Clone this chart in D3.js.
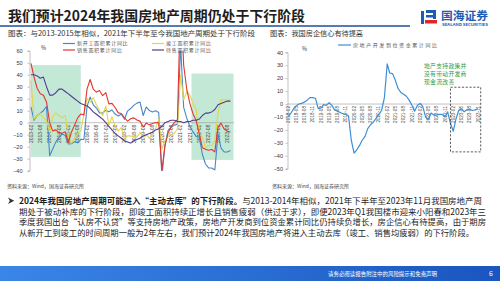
<!DOCTYPE html>
<html>
<head>
<meta charset="utf-8">
<script src="https://cdn.jsdelivr.net/npm/d3@7"></script>
<style>
  html, body { margin: 0; padding: 0; background: #fff; }
  svg { display: block; font-family: "Noto Sans CJK SC", "Noto Sans", sans-serif; }
</style>
</head>
<body>
<svg width="500" height="281"></svg>
<script>
const width = 500;
const height = 281;
const parse = d3.timeParse("%Y-%m");

// left chart: bimonthly points from 2013-02
const leftStart = "2013-02";
const newStarts = [
  13, 2, 6, 8, 10, 13.5,
  -27.5, -22, -16, -12.5, -9.3, -10.7,
  -17.7, -17.5, -15.8, -16.8, -13.9, -14,
  13.7, 21.4, 14.9, 12.2, 8.2, 8.1,
  10.4, 9.1, 10.6, 7.2, 5.6, 7.0,
  2.9, 9.7, 11.8, 14.4, 16.3, 17.2,
  6.0, 13.1, 10.1, 8.9, 10.0, 8.5,
  -44.9, -18.4, -6.3, -3.6, -2.0, -1.2,
  64.3, 12.8, 3.8, -3.2, -7.7, -11.4,
  -12.2, -26.3, -34.4, -37.7, -37.8, -39.4,
  -9.4, -21.2, -24.3, -24.4, -23.2
];
const completed = [
  35, 3, 6, 8, 4, 2,
  -8, 5, 8, 6, 4, 6,
  -12, -17, -13, -9, -7, 7,
  20, 17, 21, 15, 10, 6,
  14, -2, 5, -3, -7, -4,
  -14, -11, -11, -12, -12, -8,
  -12, -10, -13, -9, -5, 3,
  -22, -15, -11, -10, -9, -5,
  40, 19, 26, 23, 16, 11,
  -10, -12, -21, -19, -19, -15,
  8, 19, 19, 19, 19
];
const sales = [
  49.5, 38, 28.7, 24.2, 22.8, 17.3,
  -0.1, -6.8, -6, -8.3, -8.9, -7.6,
  -16.3, -8, -2, 4, 7.2, 6.5,
  28.2, 36, 27.9, 25.5, 26.8, 22.5,
  25.1, 15.7, 16.1, 12.7, 8.2, 7.7,
  4.1, 1.3, 3.3, 4.0, 2.2, 1.3,
  -3.6, -0.3, -1.8, -0.6, 0.1, -0.1,
  -39.9, -19.3, -8.4, -3.3, 0, 2.6,
  104.9, 48.1, 27.7, 15.9, 7.3, 1.9,
  -9.6, -20.9, -22.2, -23, -22.3, -24.3,
  -3.6, -0.4, -5.3, -7.1, -7.8
];
const inventory = [
  40, 40, 39, 37, 38, 30,
  23, 23, 25, 28, 28, 26,
  24, 22, 20, 18, 16, 15,
  14, 12, 9, 7, 5, 3,
  0, -3, -6, -9, -11, -13,
  -15, -16, -17, -15, -14, -13,
  -11, -10, -9, -8, -6, -5,
  -3, 0, 1, 2, 2, 1,
  1, 0, 1, 1, 2, 2,
  3, 6, 8, 8, 9, 11,
  15, 16, 17, 18, 18
];
const leftTicks = [
  "2013-02", "2013-08", "2014-02", "2014-08", "2015-02", "2015-08",
  "2016-02", "2016-08", "2017-02", "2017-08", "2018-02", "2018-08",
  "2019-02", "2019-08", "2020-02", "2020-08", "2021-02", "2021-08",
  "2022-02", "2022-08", "2023-02", "2023-08"
];
const leftYTicks = [-40, -30, -20, -10, 0, 10, 20, 30, 40, 50, 60];
// shaded down-cycle periods [from, to, top, bottom]
const leftPeriods = [
  ["2013-02", "2015-10", 48, -28.5],
  ["2021-09", "2023-12", 41, -31]
];

// right chart: monthly points from 2018-02
const rightStart = "2018-02";
const fundsYoY = [
  -10, -7.5, -4, -1.5, 0, 0.5, 1.5, 3, 5, 5, 4.5,
  -3.5, -3, -0.5, -1, 1, -1, -4.5, -5.5, -6.5, -7.5, -8, -9,
  -28, -38, -35.5, -32, -28, -25, -19, -16, -14, -11, -8, -5,
  5, 31, 24, 23.5, 18.5, 12, 9, 7.5, 6, 3, -1, -5.5,
  -1, 0.5, -2, -10, -12, -7, -8.5, -8.5, -8, -8, -10, -6,
  -15, -21, -12, -5, -3.5, -6, -4.5, -4, -5, -4.5, -3.5
];
const rightTicks = [
  "2018-02", "2018-05", "2018-08", "2018-11", "2019-02", "2019-05",
  "2019-08", "2019-11", "2020-02", "2020-05", "2020-08", "2020-11",
  "2021-02", "2021-05", "2021-08", "2021-11", "2022-02", "2022-05",
  "2022-08", "2022-11", "2023-02", "2023-05", "2023-08", "2023-11"
];
const rightYTicks = [-50, -40, -30, -20, -10, 0, 10, 20, 30, 40];
const rightBox = ["2023-01", "2023-12", 13, -37];

const leftSeries = [
  { name: "新开工面积累计同比", values: newStarts, color: "#4a86c8" },
  { name: "竣工面积累计同比", values: completed, color: "#e3d54c" },
  { name: "销售面积累计同比", values: sales, color: "#e5352c" },
  { name: "待售面积累计同比", values: inventory, color: "#4f3d90" }
];

const svg = d3.select("svg");

// ---------- header ----------
svg.append("text")
  .attr("x", 8).attr("y", 20.5)
  .attr("font-size", 14).attr("font-weight", 700).attr("fill", "#1e1e1e")
  .attr("textLength", 297).attr("lengthAdjust", "spacingAndGlyphs")
  .text("我们预计2024年我国房地产周期仍处于下行阶段");

svg.append("line")
  .attr("x1", 0).attr("x2", 410).attr("y1", 26).attr("y2", 26)
  .attr("stroke", "#1f4e9c").attr("stroke-width", 1.5);

// logo
const logo = svg.append("g");
logo.append("rect").attr("x", 421).attr("y", 11).attr("width", 3).attr("height", 13).attr("fill", "#1d5cb4");
logo.append("rect").attr("x", 426).attr("y", 10).attr("width", 10).attr("height", 3).attr("fill", "#1d5cb4");
logo.append("rect").attr("x", 426).attr("y", 15).attr("width", 10).attr("height", 2.5).attr("fill", "#1d5cb4");
logo.append("rect").attr("x", 433).attr("y", 10).attr("width", 3).attr("height", 9).attr("fill", "#1d5cb4");
logo.append("rect").attr("x", 425).attr("y", 20).attr("width", 12).attr("height", 3.5).attr("fill", "#e0262b");
logo.append("text").attr("x", 441).attr("y", 20)
  .attr("font-size", 11).attr("font-weight", 700).attr("fill", "#1d5cb4")
  .attr("textLength", 47).attr("lengthAdjust", "spacingAndGlyphs")
  .text("国海证券");
logo.append("text").attr("x", 442).attr("y", 25.5)
  .attr("font-size", 3.6).attr("font-weight", 700).attr("fill", "#1d5cb4")
  .attr("textLength", 46).attr("lengthAdjust", "spacingAndGlyphs")
  .text("SEALAND SECURITIES");

// chart titles
svg.append("text").attr("x", 8).attr("y", 35.8)
  .attr("font-size", 7).attr("fill", "#333")
  .attr("textLength", 247).attr("lengthAdjust", "spacingAndGlyphs")
  .text("图表：与2013-2015年相似，2021年下半年至今我国地产周期处于下行阶段");
svg.append("text").attr("x", 270).attr("y", 35.8)
  .attr("font-size", 7).attr("fill", "#333")
  .attr("textLength", 93).attr("lengthAdjust", "spacingAndGlyphs")
  .text("图表：我国房企信心有待提高");

// ---------- left chart ----------
const xL = d3.scaleTime().domain([parse("2013-02"), parse("2023-11")]).range([31, 232]);
const yL = d3.scaleLinear().domain([-40, 60]).range([170.7, 50.7]);
const leftDate = i => d3.timeMonth.offset(parse(leftStart), i * 2);

svg.append("clipPath").attr("id", "clipL")
  .append("rect").attr("x", 29.5).attr("y", yL(60)).attr("width", 206).attr("height", yL(-40) - yL(60));

svg.append("g").selectAll("rect")
  .data(leftPeriods)
  .join("rect")
  .attr("x", d => xL(parse(d[0])))
  .attr("width", d => xL(parse(d[1])) - xL(parse(d[0])))
  .attr("y", d => yL(d[2]))
  .attr("height", d => yL(d[3]) - yL(d[2]))
  .attr("fill", "#c3e8d6");

const axL = svg.append("g")
  .attr("transform", "translate(29.5,0)")
  .call(d3.axisLeft(yL).tickValues(leftYTicks).tickSize(2).tickPadding(5).tickFormat(d3.format("d")));
axL.select(".domain").attr("stroke", "#999").attr("stroke-width", 0.6);
axL.selectAll(".tick line").attr("stroke", "#999").attr("stroke-width", 0.6);
axL.selectAll(".tick text").attr("font-size", 5.5).attr("fill", "#333").attr("font-family", "Liberation Sans, Arial, sans-serif");

svg.append("line")
  .attr("x1", 29.5).attr("x2", 234).attr("y1", yL(0)).attr("y2", yL(0))
  .attr("stroke", "#999").attr("stroke-width", 0.6);

svg.append("g").selectAll("text")
  .data(leftTicks)
  .join("text")
  .attr("transform", d => `translate(${xL(parse(d)) + 1.8},${yL(0) + 2})rotate(-90)`)
  .attr("text-anchor", "end")
  .attr("font-size", 5).attr("fill", "#444")
  .attr("font-family", "Liberation Sans, Arial, sans-serif")
  .text(d => d);

const lineL = d3.line()
  .x((d, i) => xL(leftDate(i)))
  .y(d => yL(d));

svg.append("g").attr("clip-path", "url(#clipL)")
  .selectAll("path")
  .data(leftSeries)
  .join("path")
  .attr("d", d => lineL(d.values))
  .attr("fill", "none")
  .attr("stroke", d => d.color)
  .attr("stroke-width", 1.1)
  .attr("stroke-linejoin", "round");

svg.append("text").attr("x", 41).attr("y", 49.5)
  .attr("font-size", 5.5).attr("fill", "#333").text("%");

const legL = svg.append("g").selectAll("g")
  .data(leftSeries)
  .join("g")
  .attr("transform", (d, i) => `translate(${i % 2 === 0 ? 63 : 152},${i < 2 ? 43.5 : 50})`);
legL.append("line").attr("x1", 0).attr("x2", 12)
  .attr("stroke", d => d.color).attr("stroke-width", 1.2);
legL.append("text").attr("x", 14).attr("dy", "0.35em")
  .attr("font-size", 5).attr("letter-spacing", 0.7).attr("fill", "#555")
  .text(d => d.name);

svg.append("text").attr("x", 7).attr("y", 187.5)
  .attr("font-size", 5).attr("fill", "#444")
  .text("资料来源：Wind，国海证券研究所");

// ---------- right chart ----------
const xR = d3.scaleTime().domain([parse("2018-02"), parse("2023-11")]).range([288, 478]);
const yR = d3.scaleLinear().domain([-50, 40]).range([168.7, 52.3]);
const rightDate = i => d3.timeMonth.offset(parse(rightStart), i);

const axR = svg.append("g")
  .attr("transform", "translate(287.5,0)")
  .call(d3.axisLeft(yR).tickValues(rightYTicks).tickSize(2).tickPadding(2.5).tickFormat(d3.format("d")));
axR.select(".domain").attr("stroke", "#999").attr("stroke-width", 0.6);
axR.selectAll(".tick line").attr("stroke", "#999").attr("stroke-width", 0.6);
axR.selectAll(".tick text").attr("font-size", 5.5).attr("fill", "#333").attr("font-family", "Liberation Sans, Arial, sans-serif");

svg.append("line")
  .attr("x1", 287.5).attr("x2", 481).attr("y1", yR(0)).attr("y2", yR(0))
  .attr("stroke", "#999").attr("stroke-width", 0.6);

svg.append("g").selectAll("text")
  .data(rightTicks)
  .join("text")
  .attr("transform", d => `translate(${xR(parse(d)) + 1.6},${yR(0) + 2})rotate(-90)`)
  .attr("text-anchor", "end")
  .attr("font-size", 4.6).attr("fill", "#444")
  .attr("font-family", "Liberation Sans, Arial, sans-serif")
  .text(d => d);

svg.append("path")
  .datum(fundsYoY)
  .attr("d", d3.line().x((d, i) => xR(rightDate(i))).y(d => yR(d)))
  .attr("fill", "none")
  .attr("stroke", "#3d8ed6")
  .attr("stroke-width", 1.2)
  .attr("stroke-linejoin", "round");

svg.append("rect")
  .attr("x", xR(parse(rightBox[0])))
  .attr("width", xR(parse(rightBox[1])) - xR(parse(rightBox[0])))
  .attr("y", yR(rightBox[2]))
  .attr("height", yR(rightBox[3]) - yR(rightBox[2]))
  .attr("fill", "none").attr("stroke", "#333")
  .attr("stroke-width", 0.8).attr("stroke-dasharray", "2.2,1.6");

svg.append("text").attr("x", 302).attr("y", 51)
  .attr("font-size", 5.5).attr("fill", "#333").text("%");

svg.append("line").attr("x1", 338).attr("x2", 351).attr("y1", 45).attr("y2", 45)
  .attr("stroke", "#3d8ed6").attr("stroke-width", 1.2);
svg.append("text").attr("x", 353).attr("y", 45).attr("dy", "0.35em")
  .attr("font-size", 5).attr("fill", "#555")
  .attr("textLength", 84).attr("lengthAdjust", "spacing")
  .text("房地产开发到位资金累计同比");

svg.append("g").selectAll("text")
  .data(["地产支持政策并", "没有带动开发商", "现金流改善"])
  .join("text")
  .attr("x", 424).attr("y", (d, i) => 67.5 + i * 8.4)
  .attr("font-size", 5.8).attr("letter-spacing", 0.3).attr("fill", "#2c9b4c")
  .text(d => d);

svg.append("text").attr("x", 272).attr("y", 187.5)
  .attr("font-size", 5).attr("fill", "#444")
  .text("资料来源：Wind，国海证券研究所");

// ---------- commentary ----------
svg.append("path")
  .attr("d", "M8,197.6L14.2,200.8L8,204L9.8,200.8Z")
  .attr("fill", "#333");

const t1 = svg.append("text").attr("x", 19).attr("y", 203.8)
  .attr("font-size", 8.5).attr("fill", "#1e1e1e")
  .attr("textLength", 463).attr("lengthAdjust", "spacingAndGlyphs");
t1.append("tspan").attr("font-weight", 700).text("2024年我国房地产周期可能进入“主动去库”的下行阶段。");
t1.append("tspan").text("与2013-2014年相似，2021年下半年至2023年11月我国房地产周");

const bodyLines = [
  ["期处于被动补库的下行阶段，即竣工面积持续正增长且销售疲弱（供过于求），即便2023年Q1我国楼市迎来小阳春和2023年三", 467],
  ["季度我国出台“认房不认贷”等支持房地产政策，房地产开发商到位资金累计同比仍持续负增长，房企信心有待提高，由于期房", 467],
  ["从新开工到竣工的时间周期一般为2年左右，我们预计2024年我国房地产将进入主动去库（竣工、销售均疲弱）的下行阶段。", 455]
];
svg.append("g").selectAll("text")
  .data(bodyLines)
  .join("text")
  .attr("x", 19).attr("y", (d, i) => 214.6 + i * 10.8)
  .attr("font-size", 8.5).attr("fill", "#1e1e1e")
  .attr("textLength", d => d[1]).attr("lengthAdjust", "spacingAndGlyphs")
  .text(d => d[0]);

// ---------- footer ----------
const grad = svg.append("defs").append("linearGradient").attr("id", "foot");
grad.append("stop").attr("offset", "0%").attr("stop-color", "#3a86e6");
grad.append("stop").attr("offset", "100%").attr("stop-color", "#1a55c0");
svg.append("rect").attr("x", 0).attr("y", 266).attr("width", width).attr("height", height - 266)
  .attr("fill", "url(#foot)");
svg.append("text").attr("x", 328).attr("y", 275.8)
  .attr("font-size", 6).attr("fill", "#fff")
  .attr("textLength", 109).attr("lengthAdjust", "spacingAndGlyphs")
  .text("请务必阅读报告附注中的风险提示和免责声明");
svg.append("text").attr("x", 489).attr("y", 276.3)
  .attr("font-size", 7).attr("fill", "#fff").text("6");
</script>
</body>
</html>
